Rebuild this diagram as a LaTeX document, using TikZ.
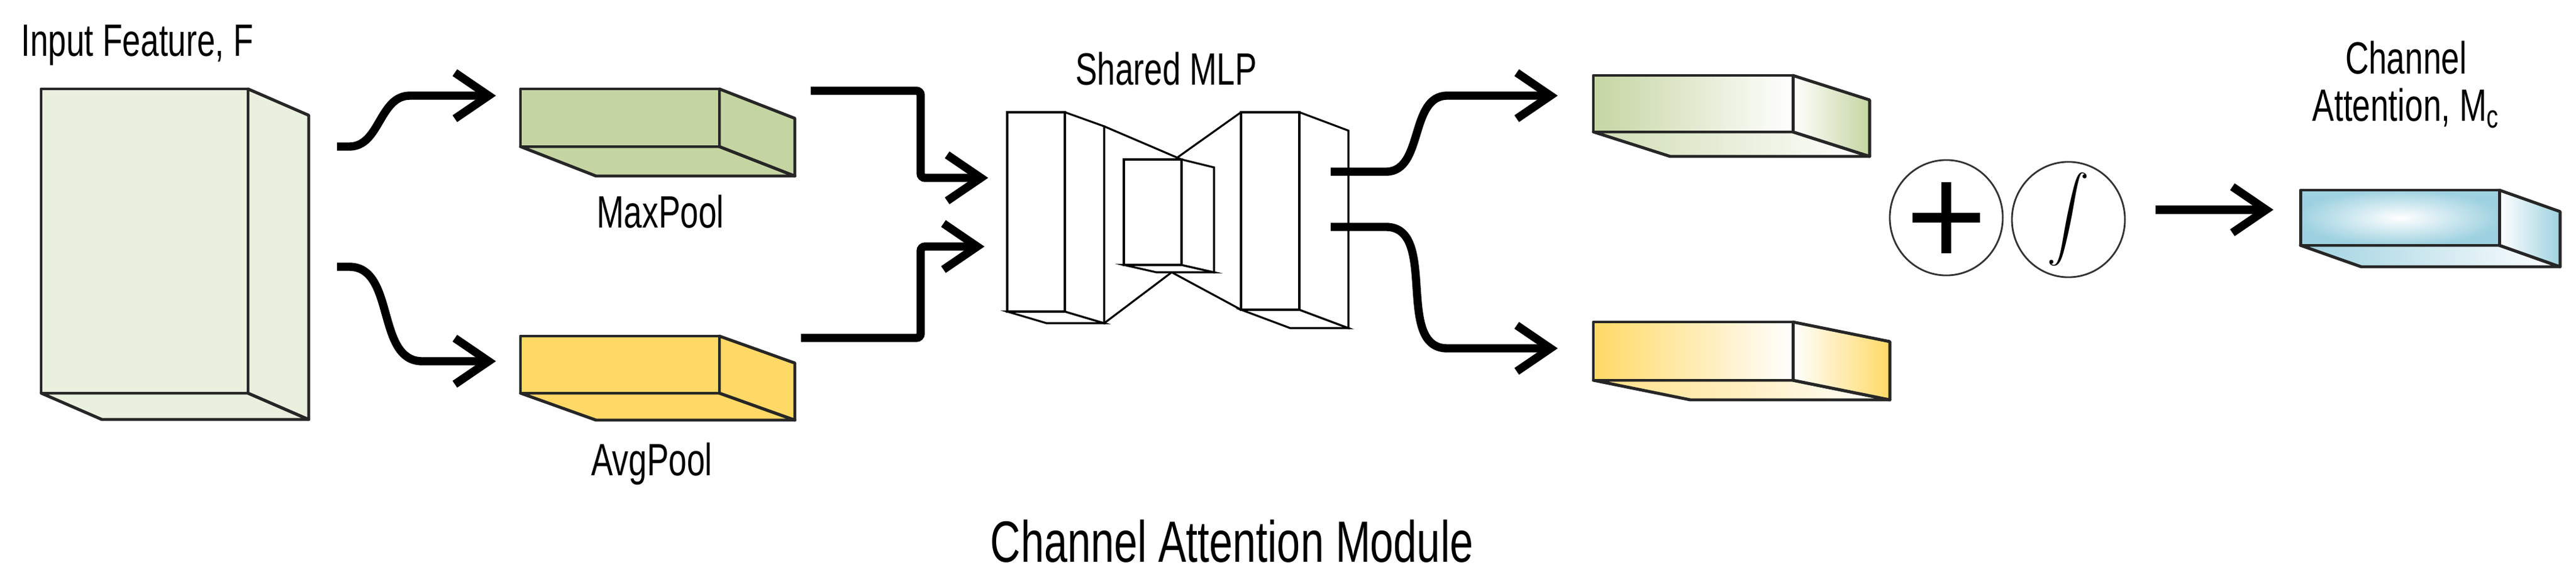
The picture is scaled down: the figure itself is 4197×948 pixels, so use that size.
\documentclass[tikz,border=0pt]{standalone}
\usepackage{fontspec}
\setmainfont{Liberation Sans}[FakeStretch=0.72]
\usetikzlibrary{arrows.meta,calc,shapes.geometric}
\definecolor{inF}{HTML}{EAF0DE}
\definecolor{maxc}{HTML}{C5D5A2}
\definecolor{avgc}{HTML}{FFD966}
\definecolor{bluec}{HTML}{9FD2E0}
\tikzset{
  boxline/.style={draw=black!85,line width=1.4pt,line join=round},
  mlp/.style={draw=black,line width=0.9pt,fill=white},
  arr/.style={line width=3.8pt,-{Straight Barb[length=0.55cm,width=0.75cm]}},
  lbl/.style={font=\fontsize{21}{24}\selectfont,align=center},
  op/.style={ellipse,draw=black!80,line width=0.8pt,minimum width=1.84cm,minimum height=1.88cm,inner sep=0pt}
}
% x1 y1 x2 y2 dx dy frontstyle sidestyle bottomstyle
\newcommand\mycub[9]{%
  \path[boxline,#9] (#1,#4) -- (#3,#4) -- ++(#5,#6) -- ++({#1-#3},0) -- cycle;
  \path[boxline,#8] (#3,#2) -- ++(#5,#6) -- ++(0,{#4-#2}) -- (#3,#4) -- cycle;
  \path[boxline,#7] (#1,#2) rectangle (#3,#4);}
\begin{document}
\begin{tikzpicture}[x=0.01cm,y=-0.01cm]
\useasboundingbox (0,0) rectangle (4197,948);
% labels
\node[lbl,anchor=base west] (tIn) at (22,91) {Input Feature, F};
\node[lbl] (tMax) at (1076,345) {MaxPool};
\node[lbl] (tAvg) at (1062,756) {AvgPool};
\node[lbl] (tMLP) at (1900,112) {Shared MLP};
\node[lbl] (tCA) at (3920,138) {Channel\\[-2pt]Attention, M\textsubscript{\fontsize{15}{15}\selectfont c}};
\node[font=\fontsize{27}{30}\selectfont] (tMod) at (2007,883) {Channel Attention Module};
% input feature
\mycub{67}{145}{404}{641}{99}{43}{fill=inF}{fill=inF}{fill=inF}
% pool boxes
\mycub{848}{145}{1172}{239}{123}{48}{fill=maxc}{fill=maxc}{fill=maxc}
\mycub{848}{548}{1172}{641}{123}{44}{fill=avgc}{fill=avgc}{fill=avgc}
% MLP
\draw[line width=0.9pt] (1799,206) -- (1925,260);
\draw[line width=0.9pt] (1918,257) -- (2022,183);
\draw[line width=0.9pt] (1799,527) -- (1909,444);
\draw[line width=0.9pt] (1909,444) -- (2022,505);
\path[mlp] (1641,508) -- (1735,508) -- (1799,527) -- (1705,527) -- cycle;
\path[mlp] (1735,183) -- (1799,206) -- (1799,527) -- (1735,508) -- cycle;
\path[mlp] (1641,183) rectangle (1735,508);
\path[mlp] (1831,432) -- (1925,432) -- (1978,444) -- (1884,444) -- cycle;
\path[mlp] (1925,260) -- (1978,273) -- (1978,444) -- (1925,432) -- cycle;
\path[mlp] (1831,260) rectangle (1925,432);
\path[mlp] (2022,505) -- (2117,505) -- (2197,535) -- (2102,535) -- cycle;
\path[mlp] (2117,183) -- (2197,213) -- (2197,535) -- (2117,505) -- cycle;
\path[mlp] (2022,183) rectangle (2117,505);
% output boxes
\mycub{2596}{123}{2921}{215}{125}{40}{left color=maxc,right color=white}{left color=white,right color=maxc}{left color=maxc!80,right color=white}
\mycub{2596}{525}{2921}{620}{158}{32}{left color=avgc,right color=white}{left color=white,right color=avgc}{left color=avgc!80,right color=white}
\mycub{3748}{310}{4072}{400}{99}{35}{inner color=white,outer color=bluec}{left color=white,right color=bluec}{left color=bluec,right color=white}
% operators
\node[op] (plus) at (3171,355) {};
\draw[line width=4.5pt] ($(plus)+(-55,0)$) -- ($(plus)+(55,0)$) ($(plus)+(0,-58)$) -- ($(plus)+(0,58)$);
\node[op] (sig) at (3370,358) {};
\node[inner sep=0pt] (sigsym) at (sig) {\scalebox{1.95}{$\displaystyle\int$}};
% anchor coordinates
\coordinate (inA) at (549,239);
\coordinate (inB) at (549,435);
\coordinate (maxIn) at (808,156);
\coordinate (avgIn) at (808,589);
\coordinate (maxOut) at (1321,148);
\coordinate (avgOut) at (1305,551);
\coordinate (mlpIn1) at (1610,290);
\coordinate (mlpIn2) at (1604,402);
\coordinate (mlpO1) at (2168,280);
\coordinate (mlpO2) at (2168,370);
\coordinate (o1In) at (2538,156);
\coordinate (o2In) at (2538,568);
\coordinate (fin) at (3512,342);
\coordinate (caIn) at (3704,342);
% arrows
\draw[arr] (inA) -- ++(20,0) to[out=0,in=180] ($(maxIn)+(-140,0)$) -- (maxIn);
\draw[arr] (inB) -- ++(20,0) to[out=0,in=180] ($(avgIn)+(-120,0)$) -- (avgIn);
\draw[arr,rounded corners=2pt] (maxOut) -| ($(mlpIn1)+(-110,0)$) -- (mlpIn1);
\draw[arr,rounded corners=2pt] (avgOut) -| ($(mlpIn2)+(-104,0)$) -- (mlpIn2);
\draw[arr] (mlpO1) -- ++(90,0) to[out=0,in=180] ($(o1In)+(-180,0)$) -- (o1In);
\draw[arr] (mlpO2) -- ++(90,0) to[out=0,in=180] ($(o2In)+(-180,0)$) -- (o2In);
\draw[arr] (fin) -- (caIn);
\end{tikzpicture}
\end{document}
